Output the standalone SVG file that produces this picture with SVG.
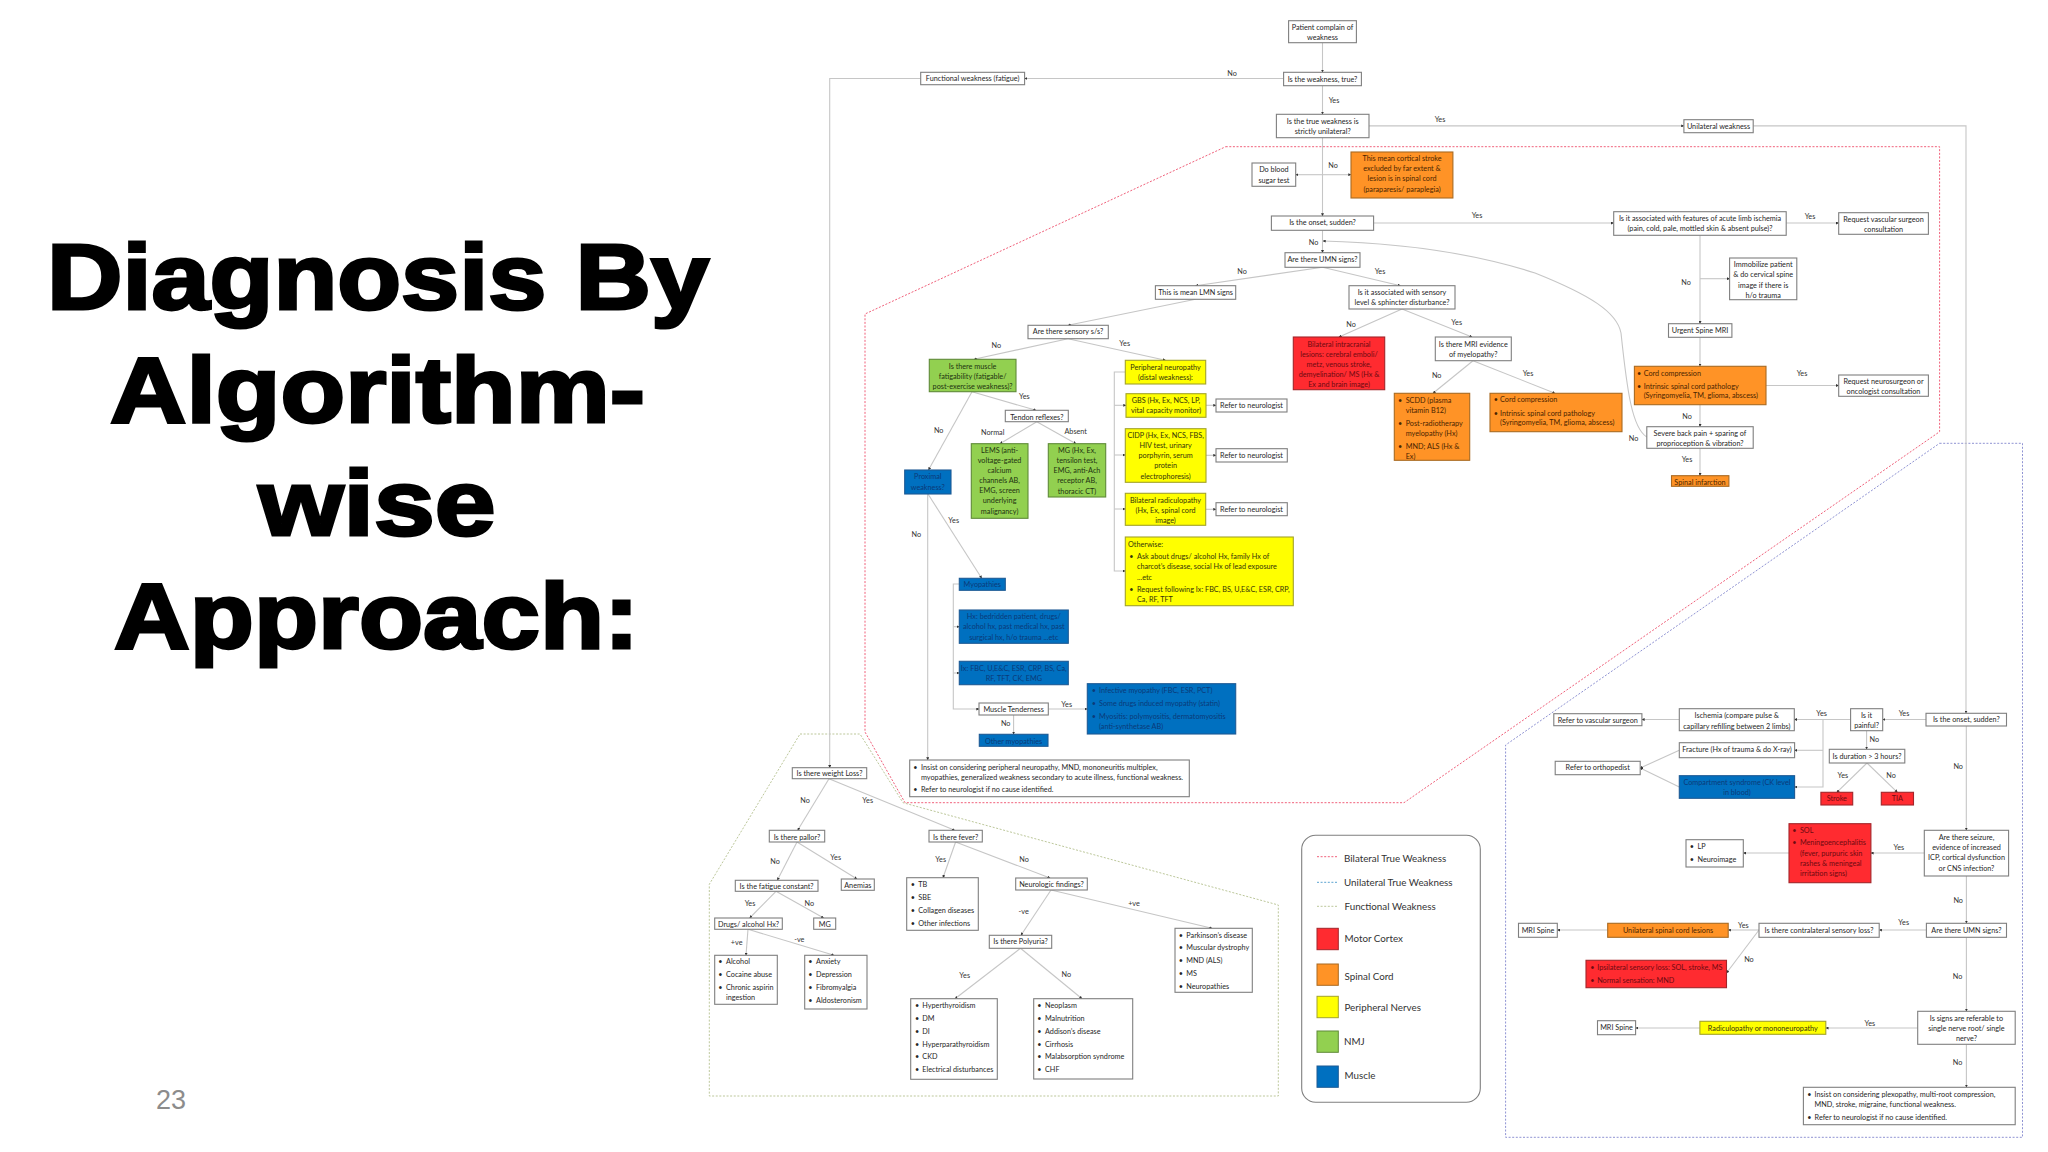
<svg xmlns="http://www.w3.org/2000/svg" width="2048" height="1152" viewBox="0 0 2048 1152">
<style>
text{font-family:Lato,"Open Sans",sans-serif;font-size:7.25px}
.n text{text-anchor:middle}
.n text.l{text-anchor:start}
.n rect{stroke-width:1.1}
.w rect{fill:#fff;stroke:#7f7f7f}.w text{fill:#262626}
.o rect{fill:#ff9326;stroke:#a96a22}.o text{fill:#4a2400}
.r rect{fill:#ff2b30;stroke:#a3252a}.r text{fill:#6e0a10}
.y rect{fill:#ffff00;stroke:#a3a32a}.y text{fill:#33330a}
.g rect{fill:#92d050;stroke:#5f8a38}.g text{fill:#1e3310}
.b rect{fill:#0070c0;stroke:#1d5a94}.b text{fill:#0b3a78}
#conn path{fill:none;stroke:#c6c6c6;stroke-width:1.1}
#labels text{text-anchor:middle;fill:#333}
#regions path{fill:none;stroke-width:1;stroke-dasharray:2 1.6}
#title text{font-family:"Liberation Sans",Arial,sans-serif;font-size:93px;font-weight:700;fill:#000;stroke:#000;stroke-width:3}
#legend text{font-size:9.8px;fill:#333}
</style>
<defs><marker id="a" viewBox="0 0 4 4" refX="3.6" refY="2" markerWidth="3" markerHeight="3" markerUnits="userSpaceOnUse" orient="auto"><path d="M0 0L4 2L0 4z" fill="#333"/></marker></defs>
<rect width="2048" height="1152" fill="#fff"/>
<g id="title">
<text x="47" y="309" textLength="662" lengthAdjust="spacingAndGlyphs">Diagnosis By</text>
<text x="110" y="422.3" textLength="535" lengthAdjust="spacingAndGlyphs">Algorithm-</text>
<text x="258.5" y="535" textLength="237" lengthAdjust="spacingAndGlyphs">wise</text>
<text x="114" y="648.3" textLength="525" lengthAdjust="spacingAndGlyphs">Approach:</text>
</g>
<text id="page" x="156" y="1109" style="font-family:'Liberation Sans',Arial,sans-serif;font-size:27px;fill:#8c8c8c">23</text>
<g id="regions">
<path d="M1225.7 146.7H1939.6V431.7L1404 802.7H905L865 732V314Z" stroke="#f0607a"/>
<path d="M1939.6 443.3H2022.5V1137.3H1505.6V745Z" stroke="#8f93d3"/>
<path d="M800 734H860L903 802.7L1278.3 905V1096H709.3V884.3Z" stroke="#bcc79a"/>
</g>
<g id="conn">
<path marker-end="url(#a)" d="M1322.5 42.7V72.3"/>
<path marker-end="url(#a)" d="M1283.6 78.5H1024.6"/>
<path marker-end="url(#a)" d="M920.7 78.5H829.7V767.7"/>
<path marker-end="url(#a)" d="M1322.5 85.7V114.3"/>
<path marker-end="url(#a)" d="M1322.5 137.7V216"/>
<path marker-end="url(#a)" d="M1322.5 174.7H1295.7"/>
<path marker-end="url(#a)" d="M1322.5 174.7H1351"/>
<path marker-end="url(#a)" d="M1369 125.9H1683.9"/>
<path marker-end="url(#a)" d="M1753.2 125.9H1966V713.3"/>
<path marker-end="url(#a)" d="M1373.6 223H1613.7"/>
<path marker-end="url(#a)" d="M1786.2 223H1838.7"/>
<path marker-end="url(#a)" d="M1700 235.3V323.7"/>
<path marker-end="url(#a)" d="M1700 278.7H1729.6"/>
<path marker-end="url(#a)" d="M1700 337.3V366.3"/>
<path marker-end="url(#a)" d="M1766 385.5H1838.7"/>
<path marker-end="url(#a)" d="M1700 404.7V426.7"/>
<path marker-end="url(#a)" d="M1700 448.3V475.7"/>
<path marker-end="url(#a)" d="M1646.8 437C1632 428 1627 390 1621 333C1617 312 1590 295 1535 273C1470 252 1400 243 1323 241"/>
<path marker-end="url(#a)" d="M1322.5 230.3V252.7"/>
<path marker-end="url(#a)" d="M1322.5 267.3L1195.5 285.7"/>
<path marker-end="url(#a)" d="M1322.5 267.3L1400.5 285.7"/>
<path marker-end="url(#a)" d="M1195.5 299.3L1068 325.3"/>
<path marker-end="url(#a)" d="M1402 309L1339 337"/>
<path marker-end="url(#a)" d="M1402 309L1472 337"/>
<path marker-end="url(#a)" d="M1473 360.7L1433 393.3"/>
<path marker-end="url(#a)" d="M1473 360.7L1555 393.3"/>
<path marker-end="url(#a)" d="M1068 338.7L974 359.3"/>
<path marker-end="url(#a)" d="M1068 338.7L1165.5 360.3"/>
<path marker-end="url(#a)" d="M972 391.7L928.5 470"/>
<path marker-end="url(#a)" d="M972 391.7L1036 410.3"/>
<path marker-end="url(#a)" d="M1036.8 421.7L1000 443.7"/>
<path marker-end="url(#a)" d="M1036.8 421.7L1076 443.7"/>
<path marker-end="url(#a)" d="M928 494L981.7 578.3"/>
<path marker-end="url(#a)" d="M927.7 494V760"/>
<path marker-end="url(#a)" d="M1125.3 372H1114.3V571H1125.3"/>
<path marker-end="url(#a)" d="M1114.3 405.3H1126"/>
<path marker-end="url(#a)" d="M1114.3 455H1125.3"/>
<path marker-end="url(#a)" d="M1114.3 509H1125.3"/>
<path marker-end="url(#a)" d="M1206 405.3H1216"/>
<path marker-end="url(#a)" d="M1206 455.3H1216"/>
<path marker-end="url(#a)" d="M1205.7 509.3H1216"/>
<path marker-end="url(#a)" d="M959.3 584H953.3V709H979"/>
<path marker-end="url(#a)" d="M953.3 626.7H959.3"/>
<path marker-end="url(#a)" d="M953.3 673H959.3"/>
<path marker-end="url(#a)" d="M1048.3 709H1087.3"/>
<path marker-end="url(#a)" d="M1013.6 715V734.3"/>
<path marker-end="url(#a)" d="M829 778.7L797.7 830.3"/>
<path marker-end="url(#a)" d="M829 778.7L954.7 830.3"/>
<path marker-end="url(#a)" d="M797 842L777.3 880.3"/>
<path marker-end="url(#a)" d="M797 842L857 879"/>
<path marker-end="url(#a)" d="M776 891.3L749.7 918"/>
<path marker-end="url(#a)" d="M776 891.3L823.7 918"/>
<path marker-end="url(#a)" d="M748 929.3L746 955.3"/>
<path marker-end="url(#a)" d="M748 929.3L834 955.3"/>
<path marker-end="url(#a)" d="M955.6 842L943 877.7"/>
<path marker-end="url(#a)" d="M955.6 842L1050 878"/>
<path marker-end="url(#a)" d="M1051 890L1021 935.3"/>
<path marker-end="url(#a)" d="M1051 890L1212 928.3"/>
<path marker-end="url(#a)" d="M1020.5 948.3L955 998.7"/>
<path marker-end="url(#a)" d="M1020.5 948.3L1082 998.7"/>
<path marker-end="url(#a)" d="M1926 719.5H1882.7"/>
<path marker-end="url(#a)" d="M1850.6 719.5H1794.3"/>
<path marker-end="url(#a)" d="M1823 719.5V787H1794.6"/>
<path marker-end="url(#a)" d="M1823 750.3H1794.6"/>
<path marker-end="url(#a)" d="M1679.3 719.5H1641.9"/>
<path marker-end="url(#a)" d="M1679.3 750.3L1640.2 768"/>
<path marker-end="url(#a)" d="M1679.3 787L1640.2 768"/>
<path marker-end="url(#a)" d="M1866.6 730.7V749.3"/>
<path marker-end="url(#a)" d="M1867 763L1836.8 792.3"/>
<path marker-end="url(#a)" d="M1867 763L1897.4 792.3"/>
<path marker-end="url(#a)" d="M1966.3 726V830.3"/>
<path marker-end="url(#a)" d="M1924.3 853H1870.9"/>
<path marker-end="url(#a)" d="M1789 853H1743.3"/>
<path marker-end="url(#a)" d="M1966.4 876V923.3"/>
<path marker-end="url(#a)" d="M1926.4 930H1879.2"/>
<path marker-end="url(#a)" d="M1759 930H1728.2"/>
<path marker-end="url(#a)" d="M1607.7 930H1557.3"/>
<path marker-end="url(#a)" d="M1759 930L1726.5 973"/>
<path marker-end="url(#a)" d="M1966.4 937.3V1011.3"/>
<path marker-end="url(#a)" d="M1917.7 1028H1825.8"/>
<path marker-end="url(#a)" d="M1699.9 1028H1635.6"/>
<path marker-end="url(#a)" d="M1966.4 1044.3V1087.3"/>
</g>
<g id="labels">
<text x="1232" y="76">No</text><text x="1334" y="102.5">Yes</text><text x="1333" y="167.5">No</text><text x="1440" y="122">Yes</text>
<text x="1477" y="218">Yes</text><text x="1810" y="219">Yes</text><text x="1686" y="284.5">No</text><text x="1802" y="375.5">Yes</text>
<text x="1687" y="418.8">No</text><text x="1687" y="462">Yes</text><text x="1633.6" y="440.8">No</text><text x="1313.6" y="244.8">No</text>
<text x="1242" y="274">No</text><text x="1380" y="274">Yes</text><text x="1351" y="326.5">No</text><text x="1456.7" y="325">Yes</text>
<text x="1436.7" y="378">No</text><text x="1528" y="375.5">Yes</text><text x="996.3" y="347.8">No</text><text x="1124.7" y="345.8">Yes</text>
<text x="938.7" y="433">No</text><text x="1024.3" y="398.8">Yes</text><text x="992.7" y="434.5">Normal</text><text x="1075.7" y="434">Absent</text>
<text x="953.7" y="522.5">Yes</text><text x="916.3" y="536.8">No</text><text x="1066.7" y="706.5">Yes</text><text x="1005.7" y="725.8">No</text>
<text x="805" y="803">No</text><text x="867.7" y="802.5">Yes</text><text x="775" y="863.5">No</text><text x="835.7" y="860">Yes</text>
<text x="750" y="905.8">Yes</text><text x="809.3" y="905.5">No</text><text x="736.7" y="944.5">+ve</text><text x="799.3" y="942">-ve</text>
<text x="940.7" y="861.5">Yes</text><text x="1024" y="862">No</text><text x="1023.7" y="913.5">-ve</text><text x="1134" y="906">+ve</text>
<text x="964.7" y="978">Yes</text><text x="1066.3" y="976.8">No</text>
<text x="1904" y="716">Yes</text><text x="1821.6" y="715.5">Yes</text><text x="1874.3" y="741.8">No</text><text x="1842.9" y="778">Yes</text><text x="1891.1" y="777.5">No</text>
<text x="1958.2" y="769">No</text><text x="1898.8" y="849.5">Yes</text><text x="1958.2" y="902.8">No</text><text x="1903.7" y="924.8">Yes</text><text x="1743.3" y="927.5">Yes</text>
<text x="1748.9" y="962">No</text><text x="1957.5" y="979">No</text><text x="1869.8" y="1025.5">Yes</text><text x="1957.5" y="1064.8">No</text>
</g>
<g id="n1" class="n w"><rect x="1288.6" y="20.7" width="67.8" height="22"/><text x="1322.5" y="30.2">Patient complain of</text><text x="1322.5" y="40.2">weakness</text></g>
<g id="n2" class="n w"><rect x="1283.6" y="72.3" width="77.8" height="13.4"/><text x="1322.5" y="81.8">Is the weakness, true?</text></g>
<g id="n3" class="n w"><rect x="920.7" y="72.3" width="103.9" height="12.4"/><text x="972.6" y="81.3">Functional weakness (fatigue)</text></g>
<g id="n4" class="n w"><rect x="1276.4" y="114.3" width="92.6" height="23.4"/><text x="1322.7" y="123.5">Is the true weakness is</text><text x="1322.7" y="133.8">strictly unilateral?</text></g>
<g id="n5" class="n w"><rect x="1252" y="163" width="43.7" height="23.3"/><text x="1273.9" y="172.1">Do blood</text><text x="1273.9" y="182.5">sugar test</text></g>
<g id="n6" class="n o"><rect x="1351" y="152" width="101.9" height="46"/><text x="1402" y="160.8">This mean cortical stroke</text><text x="1402" y="171.2">excluded by far extent &amp;</text><text x="1402" y="181.4">lesion is in spinal cord</text><text x="1402" y="191.8">(paraparesis/ paraplegia)</text></g>
<g id="n7" class="n w"><rect x="1271.4" y="216" width="102.2" height="14.3"/><text x="1322.5" y="225">Is the onset, sudden?</text></g>
<g id="n8" class="n w"><rect x="1285" y="252.7" width="75" height="14.6"/><text x="1322.5" y="262">Are there UMN signs?</text></g>
<g id="n9" class="n w"><rect x="1155.4" y="285.7" width="80.3" height="13.6"/><text x="1195.5" y="294.5">This is mean LMN signs</text></g>
<g id="n10" class="n w"><rect x="1349" y="285.7" width="106" height="23.3"/><text x="1402" y="294.5">Is it associated with sensory</text><text x="1402" y="304.8">level &amp; sphincter disturbance?</text></g>
<g id="n11" class="n w"><rect x="1028" y="325.3" width="80.3" height="13.4"/><text x="1068" y="334">Are there sensory s/s?</text></g>
<g id="n12" class="n g"><rect x="929.3" y="359.3" width="86.7" height="32.4"/><text x="972.6" y="368.5">Is there muscle</text><text x="972.6" y="378.5">fatigability (fatigable/</text><text x="972.6" y="388.8">post-exercise weakness)?</text></g>
<g id="n13" class="n w"><rect x="1005.3" y="410.3" width="63" height="11.4"/><text x="1036.8" y="419.5">Tendon reflexes?</text></g>
<g id="n14" class="n g"><rect x="971.3" y="443.7" width="56.7" height="74.6"/><text x="999.6" y="452.5">LEMS (anti-</text><text x="999.6" y="462.8">voltage-gated</text><text x="999.6" y="472.8">calcium</text><text x="999.6" y="482.8">channels AB,</text><text x="999.6" y="492.8">EMG, screen</text><text x="999.6" y="503.1">underlying</text><text x="999.6" y="513.5">malignancy)</text></g>
<g id="n15" class="n g"><rect x="1048.3" y="443.7" width="57.4" height="53.3"/><text x="1077" y="452.5">MG (Hx, Ex,</text><text x="1077" y="463">tensilon test,</text><text x="1077" y="472.8">EMG, anti-Ach</text><text x="1077" y="483.1">receptor AB,</text><text x="1077" y="493.5">thoracic CT)</text></g>
<g id="n16" class="n b"><rect x="904.7" y="470" width="46.3" height="24"/><text x="927.8" y="479.1">Proximal</text><text x="927.8" y="489.5">weakness?</text></g>
<g id="n17" class="n y"><rect x="1125.3" y="360.3" width="80.4" height="23.7"/><text x="1165.5" y="369.5">Peripheral neuropathy</text><text x="1165.5" y="379.8">(distal weakness):</text></g>
<g id="n18" class="n y"><rect x="1126" y="393.7" width="80" height="23.6"/><text x="1166" y="402.8">GBS (Hx, Ex, NCS, LP,</text><text x="1166" y="412.8">vital capacity monitor)</text></g>
<g id="n19" class="n y"><rect x="1125.3" y="428.7" width="80.7" height="53.6"/><text x="1165.6" y="437.8">CIDP (Hx, Ex, NCS, FBS,</text><text x="1165.6" y="448.1">HIV test, urinary</text><text x="1165.6" y="458.1">porphyrin, serum</text><text x="1165.6" y="468.1">protein</text><text x="1165.6" y="478.5">electrophoresis)</text></g>
<g id="n20" class="n y"><rect x="1125.3" y="493.3" width="80.4" height="32"/><text x="1165.5" y="502.5">Bilateral radiculopathy</text><text x="1165.5" y="513.1">(Hx, Ex, spinal cord</text><text x="1165.5" y="523.1">image)</text></g>
<g id="n21" class="n y"><rect x="1125.3" y="537" width="168" height="68.7"/><text class="l" x="1128" y="546.5">Otherwise:</text><text class="l" x="1129.3" y="558.8">•</text><text class="l" x="1137" y="558.8">Ask about drugs/ alcohol Hx, family Hx of</text><text class="l" x="1137" y="568.8">charcot’s disease, social Hx of lead exposure</text><text class="l" x="1137" y="579.5">...etc</text><text class="l" x="1129.3" y="592.1">•</text><text class="l" x="1137" y="592.1">Request following Ix: FBC, BS, U,E&amp;C, ESR, CRP,</text><text class="l" x="1137" y="602.1">Ca, RF, TFT</text></g>
<g id="n22" class="n w"><rect x="1216" y="399" width="71" height="13"/><text x="1251.5" y="408.1">Refer to neurologist</text></g>
<g id="n23" class="n w"><rect x="1216" y="448.7" width="71.3" height="13.3"/><text x="1251.5" y="458.1">Refer to neurologist</text></g>
<g id="n24" class="n w"><rect x="1216" y="502.7" width="71.3" height="13"/><text x="1251.5" y="511.8">Refer to neurologist</text></g>
<g id="n25" class="n b"><rect x="959.3" y="578.3" width="46" height="12"/><text x="982.3" y="587.2">Myopathies</text></g>
<g id="n26" class="n b"><rect x="959.3" y="610" width="109" height="33.3"/><text x="1013.8" y="618.8">Hx: bedridden patient, drugs/</text><text x="1013.8" y="629.1">alcohol hx, past medical hx, past</text><text x="1013.8" y="639.5">surgical hx, h/o trauma ...etc</text></g>
<g id="n27" class="n b"><rect x="959.3" y="661.3" width="109" height="23.4"/><text x="1013.8" y="670.5">Ix: FBC, U,E&amp;C, ESR, CRP, BS, Ca,</text><text x="1013.8" y="680.8">RF, TFT, CK, EMG</text></g>
<g id="n28" class="n w"><rect x="979" y="703" width="69.3" height="12"/><text x="1013.6" y="711.8">Muscle Tenderness</text></g>
<g id="n29" class="n b"><rect x="1087.3" y="683.7" width="148.4" height="50.3"/><text class="l" x="1091.7" y="692.8">•</text><text class="l" x="1099" y="692.8">Infective myopathy (FBC, ESR, PCT)</text><text class="l" x="1091.7" y="705.8">•</text><text class="l" x="1099" y="705.8">Some drugs induced myopathy (statin)</text><text class="l" x="1091.7" y="718.5">•</text><text class="l" x="1099" y="718.5">Myositis: polymyositis, dermatomyositis</text><text class="l" x="1099" y="728.8">(anti-synthetase AB)</text></g>
<g id="n30" class="n b"><rect x="979.3" y="734.3" width="68.7" height="12"/><text x="1013.6" y="743.5">Other myopathies</text></g>
<g id="n31" class="n w"><rect x="909.7" y="760" width="279.6" height="36.7"/><text class="l" x="913.3" y="769.5">•</text><text class="l" x="921" y="769.5">Insist on considering peripheral neuropathy, MND, mononeuritis multiplex,</text><text class="l" x="921" y="779.5">myopathies, generalized weakness secondary to acute illness, functional weakness.</text><text class="l" x="913.3" y="792.1">•</text><text class="l" x="921" y="792.1">Refer to neurologist if no cause identified.</text></g>
<g id="n32" class="n r"><rect x="1293.3" y="337" width="91.4" height="52.7"/><text x="1339" y="346.5">Bilateral intracranial</text><text x="1339" y="356.5">lesions: cerebral emboli/</text><text x="1339" y="366.5">metz, venous stroke,</text><text x="1339" y="376.5">demyelination/ MS (Hx &amp;</text><text x="1339" y="386.8">Ex and brain image)</text></g>
<g id="n33" class="n w"><rect x="1435.3" y="337" width="76" height="23.7"/><text x="1473.3" y="346.5">Is there MRI evidence</text><text x="1473.3" y="356.5">of myelopathy?</text></g>
<g id="n34" class="n o"><rect x="1394.3" y="393.3" width="75.4" height="67"/><text class="l" x="1398" y="402.8">•</text><text class="l" x="1405.7" y="402.8">SCDD (plasma</text><text class="l" x="1405.7" y="412.8">vitamin B12)</text><text class="l" x="1398" y="425.8">•</text><text class="l" x="1405.7" y="425.8">Post-radiotherapy</text><text class="l" x="1405.7" y="435.8">myelopathy (Hx)</text><text class="l" x="1398" y="448.5">•</text><text class="l" x="1405.7" y="448.5">MND; ALS (Hx &amp;</text><text class="l" x="1405.7" y="458.5">Ex)</text></g>
<g id="n35" class="n o"><rect x="1490" y="393.3" width="132" height="38.4"/><text class="l" x="1493.7" y="402.1">•</text><text class="l" x="1500" y="402.1">Cord compression</text><text class="l" x="1493.7" y="415.5">•</text><text class="l" x="1500" y="415.5">Intrinsic spinal cord pathology</text><text class="l" x="1500" y="425.1">(Syringomyelia, TM, glioma, abscess)</text></g>
<g id="n36" class="n o"><rect x="1634.4" y="366.3" width="131.6" height="38.4"/><text class="l" x="1637" y="375.5">•</text><text class="l" x="1643.7" y="375.5">Cord compression</text><text class="l" x="1637" y="388.5">•</text><text class="l" x="1643.7" y="388.5">Intrinsic spinal cord pathology</text><text class="l" x="1643.7" y="398.1">(Syringomyelia, TM, glioma, abscess)</text></g>
<g id="n37" class="n w"><rect x="1613.7" y="211.7" width="172.5" height="23.6"/><text x="1700" y="220.8">Is it associated with features of acute limb ischemia</text><text x="1700" y="231.1">(pain, cold, pale, mottled skin &amp; absent pulse)?</text></g>
<g id="n38" class="n w"><rect x="1838.7" y="212.7" width="89.7" height="21.6"/><text x="1883.5" y="221.8">Request vascular surgeon</text><text x="1883.5" y="231.8">consultation</text></g>
<g id="n39" class="n w"><rect x="1729.6" y="258" width="67.2" height="41.7"/><text x="1763.2" y="267.1">Immobilize patient</text><text x="1763.2" y="277.1">&amp; do cervical spine</text><text x="1763.2" y="287.8">image if there is</text><text x="1763.2" y="297.8">h/o trauma</text></g>
<g id="n40" class="n w"><rect x="1668.5" y="323.7" width="63.4" height="13.6"/><text x="1700" y="332.5">Urgent Spine MRI</text></g>
<g id="n41" class="n w"><rect x="1838.7" y="375" width="89.7" height="21.3"/><text x="1883.5" y="383.8">Request neurosurgeon or</text><text x="1883.5" y="394.1">oncologist consultation</text></g>
<g id="n42" class="n w"><rect x="1646.8" y="426.7" width="106.4" height="21.6"/><text x="1700" y="436.1">Severe back pain + sparing of</text><text x="1700" y="446.1">proprioception &amp; vibration?</text></g>
<g id="n43" class="n o"><rect x="1671.5" y="475.7" width="57.4" height="10.6"/><text x="1700" y="484.5">Spinal infarction</text></g>
<g id="n44" class="n w"><rect x="1683.9" y="119.7" width="69.3" height="13"/><text x="1718.5" y="128.5">Unilateral weakness</text></g>
<g id="n45" class="n w"><rect x="792.3" y="767.7" width="74.4" height="11"/><text x="829.5" y="776.1">Is there weight Loss?</text></g>
<g id="n46" class="n w"><rect x="769.3" y="830.3" width="55.4" height="11.7"/><text x="797" y="839.5">Is there pallor?</text></g>
<g id="n47" class="n w"><rect x="929" y="830.3" width="53.3" height="11.7"/><text x="955.6" y="839.5">Is there fever?</text></g>
<g id="n48" class="n w"><rect x="735.3" y="880.3" width="82.7" height="11"/><text x="776.6" y="888.8">Is the fatigue constant?</text></g>
<g id="n49" class="n w"><rect x="841.3" y="879" width="33" height="11.3"/><text x="857.8" y="887.8">Anemias</text></g>
<g id="n50" class="n w"><rect x="906.7" y="877.7" width="71.6" height="52.6"/><text class="l" x="910.7" y="886.8">•</text><text class="l" x="918.3" y="886.8">TB</text><text class="l" x="910.7" y="899.8">•</text><text class="l" x="918.3" y="899.8">SBE</text><text class="l" x="910.7" y="912.8">•</text><text class="l" x="918.3" y="912.8">Collagen diseases</text><text class="l" x="910.7" y="925.5">•</text><text class="l" x="918.3" y="925.5">Other infections</text></g>
<g id="n51" class="n w"><rect x="1015.7" y="878" width="71.6" height="12"/><text x="1051.5" y="886.8">Neurologic findings?</text></g>
<g id="n52" class="n w"><rect x="714.7" y="918" width="67.6" height="11.3"/><text x="748.5" y="926.8">Drugs/ alcohol Hx?</text></g>
<g id="n53" class="n w"><rect x="813.7" y="918" width="22" height="11.3"/><text x="824.7" y="926.8">MG</text></g>
<g id="n54" class="n w"><rect x="714.7" y="955.3" width="62.6" height="49"/><text class="l" x="718.3" y="964.1">•</text><text class="l" x="726" y="964.1">Alcohol</text><text class="l" x="718.3" y="977.1">•</text><text class="l" x="726" y="977.1">Cocaine abuse</text><text class="l" x="718.3" y="990.1">•</text><text class="l" x="726" y="990.1">Chronic aspirin</text><text class="l" x="726" y="1000.1">ingestion</text></g>
<g id="n55" class="n w"><rect x="804.7" y="955.3" width="62.3" height="53.7"/><text class="l" x="808.3" y="964.1">•</text><text class="l" x="816" y="964.1">Anxiety</text><text class="l" x="808.3" y="977.1">•</text><text class="l" x="816" y="977.1">Depression</text><text class="l" x="808.3" y="989.8">•</text><text class="l" x="816" y="989.8">Fibromyalgia</text><text class="l" x="808.3" y="1002.5">•</text><text class="l" x="816" y="1002.5">Aldosteronism</text></g>
<g id="n56" class="n w"><rect x="989.3" y="935.3" width="62.4" height="13"/><text x="1020.5" y="944.1">Is there Polyuria?</text></g>
<g id="n57" class="n w"><rect x="910.7" y="998.7" width="86.6" height="80.6"/><text class="l" x="915" y="1008.1">•</text><text class="l" x="922.3" y="1008.1">Hyperthyroidism</text><text class="l" x="915" y="1021.1">•</text><text class="l" x="922.3" y="1021.1">DM</text><text class="l" x="915" y="1033.5">•</text><text class="l" x="922.3" y="1033.5">DI</text><text class="l" x="915" y="1046.5">•</text><text class="l" x="922.3" y="1046.5">Hyperparathyroidism</text><text class="l" x="915" y="1058.8">•</text><text class="l" x="922.3" y="1058.8">CKD</text><text class="l" x="915" y="1071.8">•</text><text class="l" x="922.3" y="1071.8">Electrical disturbances</text></g>
<g id="n58" class="n w"><rect x="1033.7" y="998.7" width="99" height="80.3"/><text class="l" x="1037.3" y="1008.1">•</text><text class="l" x="1045" y="1008.1">Neoplasm</text><text class="l" x="1037.3" y="1021.1">•</text><text class="l" x="1045" y="1021.1">Malnutrition</text><text class="l" x="1037.3" y="1033.5">•</text><text class="l" x="1045" y="1033.5">Addison’s disease</text><text class="l" x="1037.3" y="1046.5">•</text><text class="l" x="1045" y="1046.5">Cirrhosis</text><text class="l" x="1037.3" y="1058.8">•</text><text class="l" x="1045" y="1058.8">Malabsorption syndrome</text><text class="l" x="1037.3" y="1071.8">•</text><text class="l" x="1045" y="1071.8">CHF</text></g>
<g id="n59" class="n w"><rect x="1175" y="928.3" width="77.3" height="64"/><text class="l" x="1178.7" y="937.8">•</text><text class="l" x="1186.3" y="937.8">Parkinson’s disease</text><text class="l" x="1178.7" y="950.1">•</text><text class="l" x="1186.3" y="950.1">Muscular dystrophy</text><text class="l" x="1178.7" y="963.1">•</text><text class="l" x="1186.3" y="963.1">MND (ALS)</text><text class="l" x="1178.7" y="976.1">•</text><text class="l" x="1186.3" y="976.1">MS</text><text class="l" x="1178.7" y="988.8">•</text><text class="l" x="1186.3" y="988.8">Neuropathies</text></g>
<g id="n60" class="n w"><rect x="1553.8" y="713.7" width="88.1" height="12"/><text x="1597.8" y="722.8">Refer to vascular surgeon</text></g>
<g id="n61" class="n w"><rect x="1679.3" y="708.7" width="115" height="22"/><text x="1736.8" y="717.8">Ischemia (compare pulse &amp;</text><text x="1736.8" y="728.5">capillary refilling between 2 limbs)</text></g>
<g id="n62" class="n w"><rect x="1850.6" y="708.7" width="32.1" height="22"/><text x="1866.6" y="717.8">Is it</text><text x="1866.6" y="727.8">painful?</text></g>
<g id="n63" class="n w"><rect x="1926" y="713.3" width="80.5" height="12.7"/><text x="1966.3" y="722.1">Is the onset, sudden?</text></g>
<g id="n64" class="n w"><rect x="1679.3" y="742.7" width="115.3" height="15"/><text x="1737" y="751.8">Fracture (Hx of trauma &amp; do X-ray)</text></g>
<g id="n65" class="n w"><rect x="1829.3" y="749.3" width="75.5" height="13.7"/><text x="1867" y="758.5">Is duration &gt; 3 hours?</text></g>
<g id="n66" class="n w"><rect x="1555.2" y="761.3" width="85" height="13.4"/><text x="1597.7" y="770.1">Refer to orthopedist</text></g>
<g id="n67" class="n b"><rect x="1679.3" y="775.7" width="115.3" height="22.6"/><text x="1737" y="784.8">Compartment syndrome (CK level</text><text x="1737" y="795.1">in blood)</text></g>
<g id="n68" class="n r"><rect x="1820.9" y="792.3" width="31.8" height="12.7"/><text x="1836.8" y="801.1">Stroke</text></g>
<g id="n69" class="n r"><rect x="1881.3" y="792.3" width="32.2" height="12.7"/><text x="1897.4" y="801.1">TIA</text></g>
<g id="n70" class="n r"><rect x="1789" y="823.7" width="81.9" height="59"/><text class="l" x="1792.2" y="833.1">•</text><text class="l" x="1799.9" y="833.1">SOL</text><text class="l" x="1792.2" y="845.1">•</text><text class="l" x="1799.9" y="845.1">Meningoencephalitis</text><text class="l" x="1799.9" y="855.8">(fever, purpuric skin</text><text class="l" x="1799.9" y="866.1">rashes &amp; meningeal</text><text class="l" x="1799.9" y="876.1">irritation signs)</text></g>
<g id="n71" class="n w"><rect x="1686" y="839.7" width="57.3" height="27.3"/><text class="l" x="1689.8" y="848.8">•</text><text class="l" x="1697.5" y="848.8">LP</text><text class="l" x="1689.8" y="861.8">•</text><text class="l" x="1697.5" y="861.8">Neuroimage</text></g>
<g id="n72" class="n w"><rect x="1924.3" y="830.3" width="84.3" height="45.7"/><text x="1966.5" y="839.8">Are there seizure,</text><text x="1966.5" y="850.1">evidence of increased</text><text x="1966.5" y="860.1">ICP, cortical dysfunction</text><text x="1966.5" y="870.5">or CNS infection?</text></g>
<g id="n73" class="n w"><rect x="1518.5" y="923.3" width="38.8" height="14"/><text x="1538" y="932.8">MRI Spine</text></g>
<g id="n74" class="n o"><rect x="1607.7" y="923.3" width="120.5" height="14"/><text x="1668" y="932.8">Unilateral spinal cord lesions</text></g>
<g id="n75" class="n w"><rect x="1759" y="923.3" width="120.2" height="14"/><text x="1819" y="932.8">Is there contralateral sensory loss?</text></g>
<g id="n76" class="n w"><rect x="1926.4" y="923.3" width="80.1" height="14"/><text x="1966.4" y="932.8">Are there UMN signs?</text></g>
<g id="n77" class="n r"><rect x="1586" y="960.3" width="140.5" height="27.4"/><text class="l" x="1590.2" y="969.8">•</text><text class="l" x="1597.2" y="969.8">Ipsilateral sensory loss: SOL, stroke, MS</text><text class="l" x="1590.2" y="982.8">•</text><text class="l" x="1597.2" y="982.8">Normal sensation: MND</text></g>
<g id="n78" class="n w"><rect x="1597.5" y="1020.7" width="38.1" height="14"/><text x="1616.5" y="1030.1">MRI Spine</text></g>
<g id="n79" class="n y"><rect x="1699.9" y="1021.3" width="125.9" height="13"/><text x="1762.8" y="1031.1">Radiculopathy or mononeuropathy</text></g>
<g id="n80" class="n w"><rect x="1917.7" y="1011.3" width="97.5" height="33"/><text x="1966.4" y="1020.8">Is signs are referable to</text><text x="1966.4" y="1031.1">single nerve root/ single</text><text x="1966.4" y="1041.1">nerve?</text></g>
<g id="n81" class="n w"><rect x="1803.4" y="1087.3" width="211.8" height="37.4"/><text class="l" x="1807.2" y="1097.1">•</text><text class="l" x="1814.6" y="1097.1">Insist on considering plexopathy, multi-root compression,</text><text class="l" x="1814.6" y="1106.8">MND, stroke, migraine, functional weakness.</text><text class="l" x="1807.2" y="1119.8">•</text><text class="l" x="1814.6" y="1119.8">Refer to neurologist if no cause identified.</text></g>
<g id="legend">
<rect x="1301.7" y="835.3" width="178.6" height="267" rx="14" fill="#fff" stroke="#7f7f7f" stroke-width="1.1"/>
<path d="M1317 856.7H1338" stroke="#f0607a" stroke-width="1" stroke-dasharray="2 1.6"/>
<path d="M1317 882.3H1338" stroke="#5ba3d0" stroke-width="1" stroke-dasharray="2 1.6"/>
<path d="M1317 906.3H1338" stroke="#bcc79a" stroke-width="1" stroke-dasharray="2 1.6"/>
<text x="1344" y="861.5">Bilateral True Weakness</text><text x="1344" y="885.5">Unilateral True Weakness</text><text x="1344.5" y="909.5">Functional Weakness</text>
<rect x="1317" y="928.3" width="21.3" height="21.4" fill="#ff2b30" stroke="#a3252a"/><text x="1344.5" y="942.3">Motor Cortex</text>
<rect x="1317" y="964" width="21.3" height="21.3" fill="#ff9326" stroke="#a96a22"/><text x="1344.5" y="979.7">Spinal Cord</text>
<rect x="1317" y="996.3" width="21.3" height="21.4" fill="#ffff00" stroke="#a3a32a"/><text x="1344.5" y="1010.7">Peripheral Nerves</text>
<rect x="1317" y="1031" width="21.3" height="21.3" fill="#92d050" stroke="#5f8a38"/><text x="1344" y="1045">NMJ</text>
<rect x="1317" y="1066" width="21.3" height="21.3" fill="#0070c0" stroke="#1d5a94"/><text x="1344.5" y="1079.4">Muscle</text>
</g>
</svg>
